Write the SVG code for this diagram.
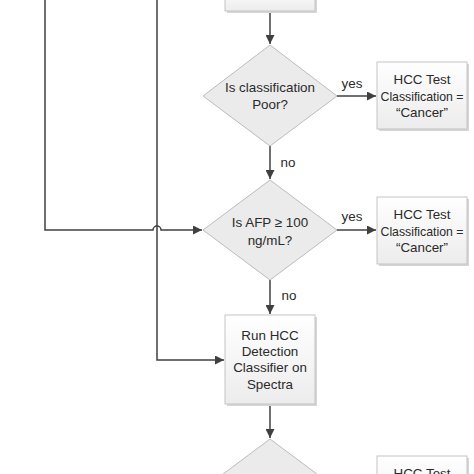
<svg xmlns="http://www.w3.org/2000/svg" width="474" height="474" viewBox="0 0 474 474">
<style>
.box{fill:url(#gb);stroke:#c4c4c4;stroke-width:1}
.shd{fill:#d6d6d6}
.dia{fill:#ebebeb;stroke:#bcbcbc;stroke-width:1}
.ln{fill:none;stroke:#404040;stroke-width:1.5}
.t{font-family:"Liberation Sans",Arial,sans-serif;font-size:13.4px;fill:#2a2a2a;text-anchor:middle;dominant-baseline:central}
</style>
<defs>
<linearGradient id="gb" x1="0" y1="0" x2="0" y2="1">
<stop offset="0" stop-color="#ffffff"/>
<stop offset="1" stop-color="#ececec"/>
</linearGradient>
<marker id="ar" viewBox="0 0 10 10" refX="10" refY="5" markerWidth="9" markerHeight="9" markerUnits="userSpaceOnUse" orient="auto">
<path d="M0,0 L10,5 L0,10 z" fill="#404040"/>
</marker>
</defs>
<rect width="474" height="474" fill="#fff"/>
<g id="connectors">
<path class="ln" d="M270,11 V44" marker-end="url(#ar)"/>
<path class="ln" d="M337,96 H376" marker-end="url(#ar)"/>
<path class="ln" d="M270,146 V179" marker-end="url(#ar)"/>
<path class="ln" d="M337,230 H376" marker-end="url(#ar)"/>
<path class="ln" d="M270,280 V314" marker-end="url(#ar)"/>
<path class="ln" d="M270,404 V438" marker-end="url(#ar)"/>
<path class="ln" d="M45,0 V230 H153 A4,4 0 0 1 161,230 H202" marker-end="url(#ar)"/>
<path class="ln" d="M157,0 V360 H224" marker-end="url(#ar)"/>
<text class="t" x="352" y="83">yes</text>
<text class="t" x="288" y="162">no</text>
<text class="t" x="352" y="216">yes</text>
<text class="t" x="289" y="295">no</text>
</g>
<g id="box-top">
<rect class="shd" x="227" y="-10" width="90" height="23"/>
<rect class="box" x="225" y="-12" width="90" height="23"/>
</g>
<g id="dia-poor">
<polygon class="dia" points="270,45 337,96 270,146 203,96"/>
<text class="t" x="270" y="87">Is classification</text>
<text class="t" x="270" y="104">Poor?</text>
</g>
<g id="box-cancer1">
<rect class="shd" x="379" y="64" width="90" height="67"/>
<rect class="box" x="377" y="62" width="90" height="67"/>
<text class="t" x="422" y="79">HCC Test</text>
<text class="t" x="422" y="96" textLength="83" lengthAdjust="spacingAndGlyphs">Classification =</text>
<text class="t" x="422" y="112">“Cancer”</text>
</g>
<g id="dia-afp">
<polygon class="dia" points="270,180 337,230 270,280 203,230"/>
<text class="t" x="270" y="222">Is AFP ≥ 100</text>
<text class="t" x="270" y="240">ng/mL?</text>
</g>
<g id="box-cancer2">
<rect class="shd" x="379" y="199" width="90" height="67"/>
<rect class="box" x="377" y="197" width="90" height="67"/>
<text class="t" x="422" y="214">HCC Test</text>
<text class="t" x="422" y="231" textLength="83" lengthAdjust="spacingAndGlyphs">Classification =</text>
<text class="t" x="422" y="247">“Cancer”</text>
</g>
<g id="box-run">
<rect class="shd" x="227" y="317" width="90" height="89"/>
<rect class="box" x="225" y="315" width="90" height="89"/>
<text class="t" x="270" y="335">Run HCC</text>
<text class="t" x="270" y="351">Detection</text>
<text class="t" x="270" y="367">Classifier on</text>
<text class="t" x="270" y="384">Spectra</text>
</g>
<g id="dia-bottom">
<polygon class="dia" points="270,439 337,489 270,539 203,489"/>
</g>
<g id="box-cancer3">
<rect class="shd" x="379" y="458" width="90" height="67"/>
<rect class="box" x="377" y="456" width="90" height="67"/>
<text class="t" x="422" y="473">HCC Test</text>
</g>
</svg>
